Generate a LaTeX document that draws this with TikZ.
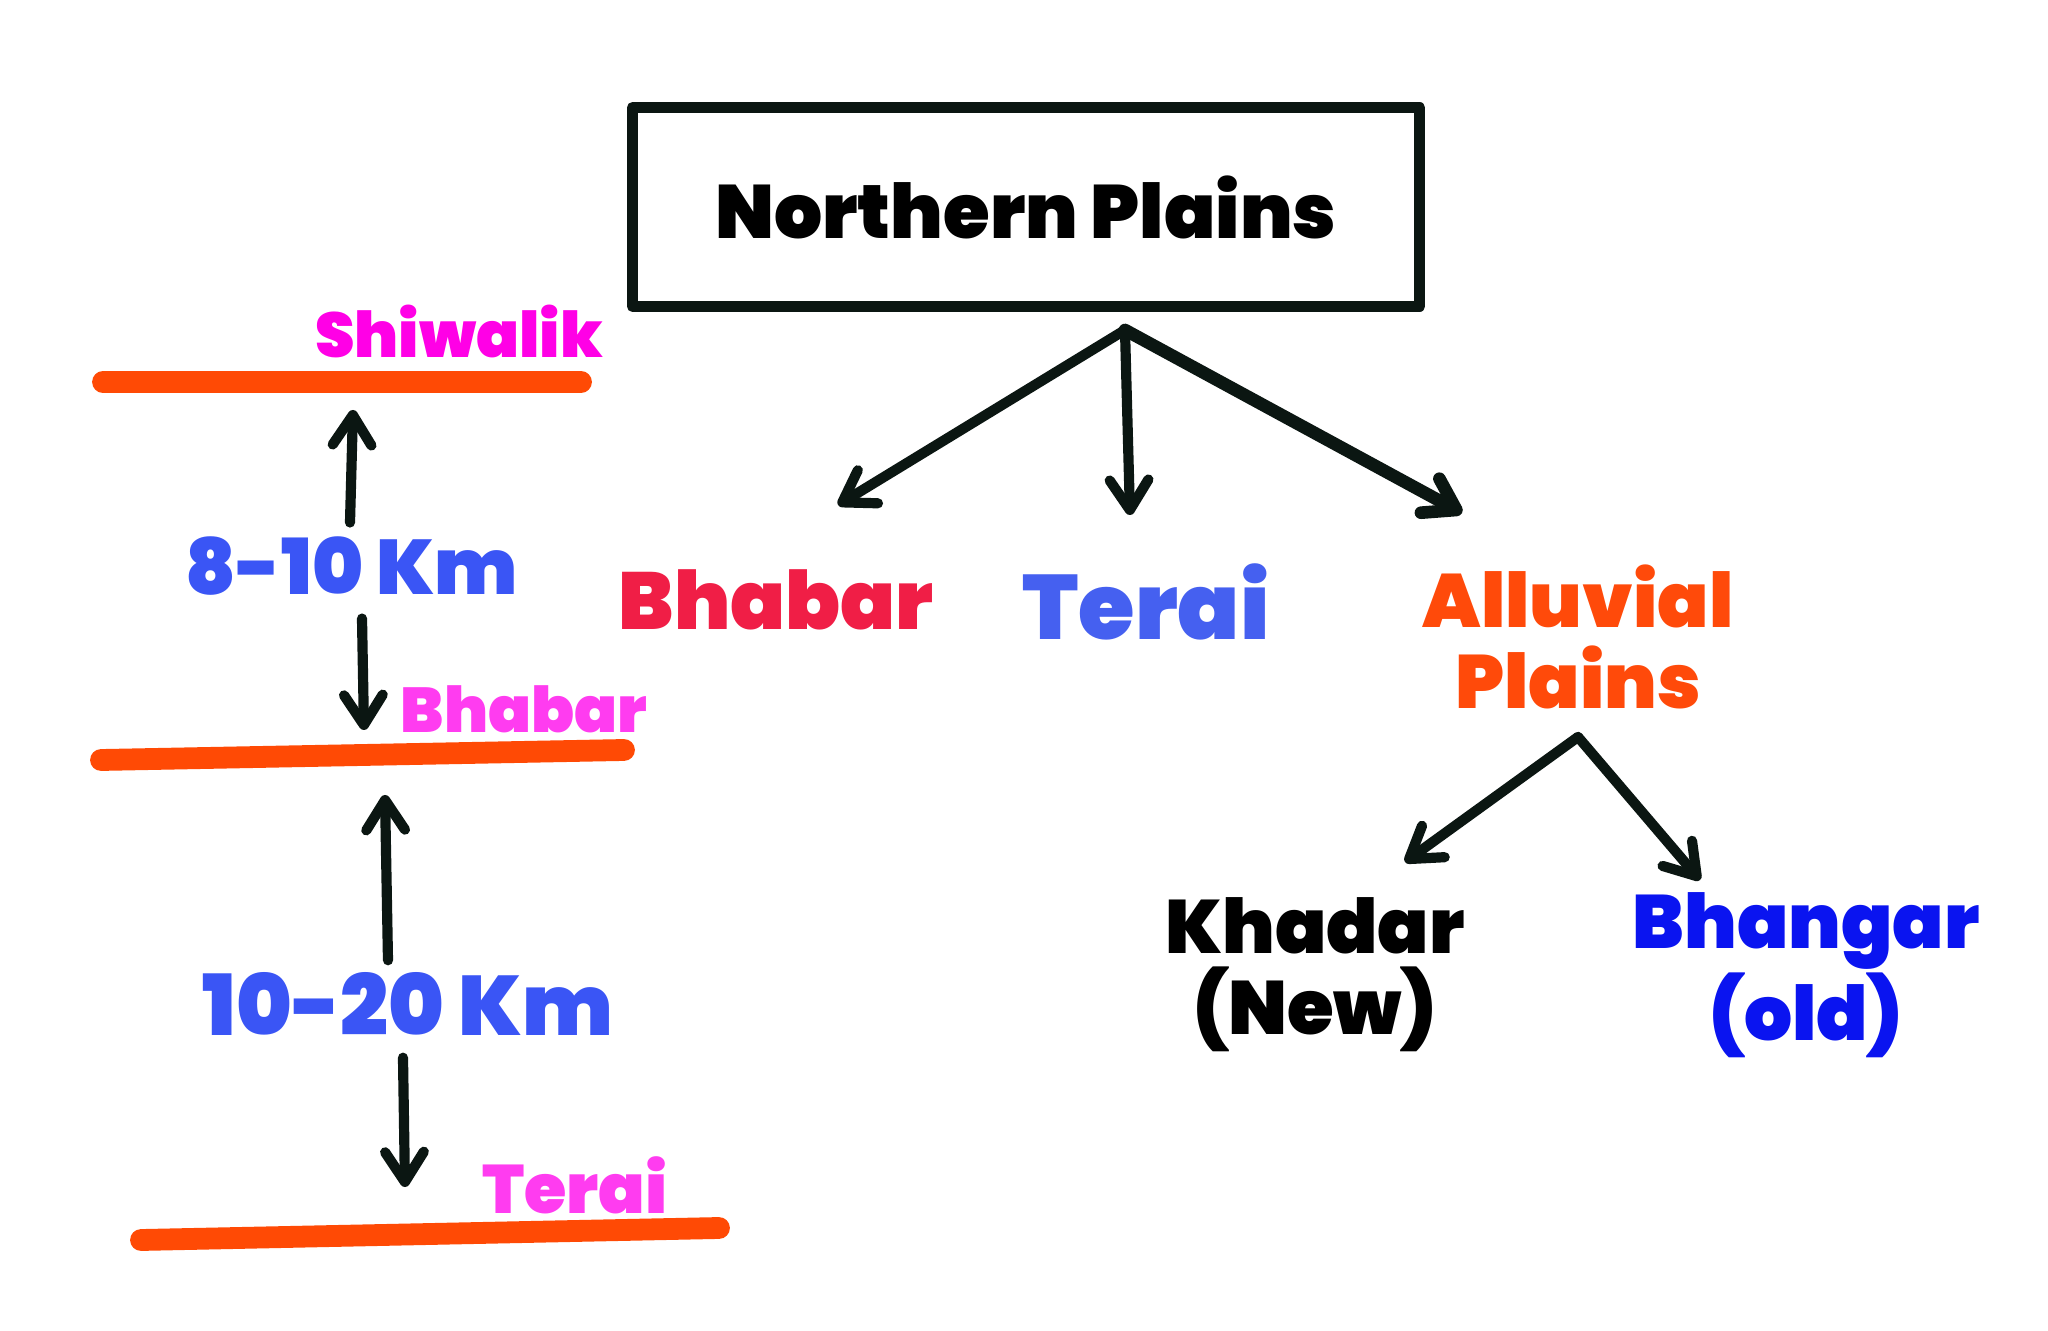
\documentclass[tikz,border=0pt]{standalone}
\usepackage{fontspec}
\setmainfont{Poppins}[BoldFont={* Black}]
\usepackage{tikz}
\usetikzlibrary{arrows.meta}

\definecolor{inkblack}{HTML}{0B1612}
\definecolor{ridgeorange}{HTML}{FF4A05}
\definecolor{bhabarred}{HTML}{F01E46}
\definecolor{teraiblue}{HTML}{4560F0}
\definecolor{alluvialorange}{HTML}{FF4A0A}
\definecolor{kmblue}{HTML}{3A55F5}
\definecolor{bhangarblue}{HTML}{0A14F0}
\definecolor{shiwalikpink}{HTML}{FF00E6}
\definecolor{beltpink}{HTML}{FF3CF0}

\begin{document}
\begin{tikzpicture}[x=0.01cm,y=-0.01cm,->,>={Straight Barb[length=8.5pt,width=11pt,round]},
                line cap=round,line join=round,
                heading/.style={font=\fontsize{21.5}{23}\selectfont\bfseries,inner sep=0pt},
                belt/.style={font=\fontsize{18}{20}\selectfont\bfseries,inner sep=0pt,anchor=base,text=beltpink},
                km/.style={font=\fontsize{22}{24}\selectfont\bfseries,inner sep=0pt,anchor=base,text=kmblue},
                ridge/.style={-,line width=6.2pt,draw=ridgeorange},
                link/.style={draw=inkblack,line width=2.9pt}]

  \fill[white] (0,0) rectangle (2048,1331);
  \useasboundingbox (0,0) rectangle (2048,1331);

  % main box and its three parts
  \node[draw=inkblack,line width=3pt,minimum width=7.87cm,minimum height=1.99cm,
        heading] (np) at (1026,207) {\raisebox{-0.28cm}{Northern Plains}};
  \node[heading,anchor=base,font=\fontsize{23}{25}\selectfont\bfseries,text=bhabarred] (bhabar) at (776,630) {Bhabar};
  \node[heading,anchor=base,font=\fontsize{26}{28}\selectfont\bfseries,text=teraiblue] (terai) at (1146,640) {Terai};
  \node[heading,align=center,text=alluvialorange] (alluvial) at (1578,637) {Alluvial\\Plains};
  \node[heading,align=center,text=black] (khadar) at (1315,975) {Khadar\\(New)};
  \node[heading,align=center,text=bhangarblue] (bhangar) at (1806,975) {Bhangar\\(old)};

  \coordinate (fork) at (1125,330);
  \coordinate (tipbhabar) at (838,505);
  \coordinate (tipterai) at (1130,515);
  \coordinate (tipalluvial) at (1462,513);
  \draw[link] (fork) -- (tipbhabar);
  \draw[link] (fork) -- (tipterai);
  \draw[link,line width=3.6pt] (fork) -- (tipalluvial);

  \coordinate (afork) at (1578,737);
  \coordinate (tipkhadar) at (1405,862);
  \coordinate (tipbhangar) at (1700,880);
  \draw[link] (afork) -- (tipkhadar);
  \draw[link] (afork) -- (tipbhangar);

  % belts on the left
  \draw[ridge] (103,382) -- (581,382);
  \draw[ridge] (101,760) -- (624,750);
  \draw[ridge] (141,1240) -- (719,1228);

  \node[belt,text=shiwalikpink] (shiwalik) at (459,358) {Shiwalik};
  \node[belt] (bhabarbelt) at (524,733) {Bhabar};
  \node[belt,font=\fontsize{19.5}{21}\selectfont\bfseries] (teraibelt) at (575,1213) {Terai};

  \node[km] (km1) at (352,595) {8-10 Km};
  \node[km,font=\fontsize{24}{26}\selectfont\bfseries] (km2) at (408,1035) {10-20 Km};

  \coordinate (up1) at (353,410);
  \coordinate (down1) at (364,730);
  \coordinate (up2) at (385,795);
  \coordinate (down2) at (405,1187);
  \draw[link] ([xshift=-0.02cm,yshift=0.14cm]km1.north) -- (up1);
  \draw[link] ([xshift=0.1cm,yshift=-0.22cm]km1.south) -- (down1);
  \draw[link] ([xshift=-0.2cm,yshift=0.11cm]km2.north) -- (up2);
  \draw[link] ([xshift=-0.05cm,yshift=-0.22cm]km2.south) -- (down2);

\end{tikzpicture}
\end{document}
